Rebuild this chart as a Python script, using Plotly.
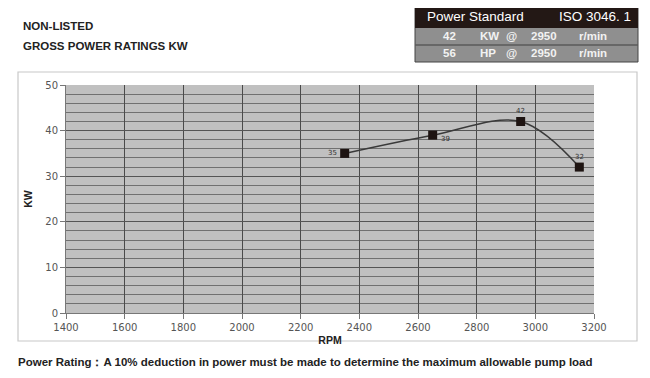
import plotly.graph_objects as go

rpm = [2350, 2650, 2950, 3150]
kw = [35, 39, 42, 32]
point_labels = ["35", "39", "42", "32"]
x_ticks = [1400, 1600, 1800, 2000, 2200, 2400, 2600, 2800, 3000, 3200]
y_ticks = [0, 10, 20, 30, 40, 50]
rated_kw, rated_hp, rated_rpm = 42, 56, 2950

# page body has an 8px margin; lay out in reference pixel coords, shifted by OFF
OFF = 8
W, H = 650 - OFF, 378 - OFF
L, T = 66 - OFF, 85 - OFF
PLOT_R, PLOT_B = 594 - OFF, 313 - OFF
R, B = W - PLOT_R, H - PLOT_B
PW, PH = W - L - R, H - T - B

def px(x):
    return (x - OFF - L) / PW

def py(y):
    return (H - B - (y - OFF)) / PH

fig = go.Figure()
fig.add_trace(go.Scatter(
    x=rpm, y=kw, mode="lines+markers",
    line=dict(color="#3a3a3a", width=1.5, shape="spline", smoothing=1.0),
    marker=dict(symbol="square", size=9, color="#1e1412"),
    hoverinfo="x+y", showlegend=False,
))

label_pos = [("right", "middle", -6, 0), ("left", "middle", 6, 4), ("center", "bottom", 0, -4), ("center", "bottom", 0, -4)]
for xv, yv, t, (xa, ya, dx, dy) in zip(rpm, kw, point_labels, label_pos):
    fig.add_annotation(x=xv, y=yv, text=t, showarrow=False,
                       xanchor=xa, yanchor=ya, xshift=dx, yshift=-dy,
                       font=dict(size=7, color="#333", family="DejaVu Sans"))

tickfont = dict(family="DejaVu Sans", size=10, color="#555")
bold = "Liberation Sans"
fig.update_xaxes(range=[1400, 3200], tickvals=x_ticks, ticks="outside", ticklen=5,
                 tickcolor="#777", showline=True, linecolor="#777", linewidth=1,
                 showgrid=True, gridcolor="#4a4a4a", gridwidth=1, zeroline=False,
                 tickfont=tickfont,
                 title=dict(text="<b>RPM</b>", standoff=4, font=dict(family=bold, size=10.5, color="#222")))
fig.update_yaxes(range=[0, 50], tickvals=y_ticks, ticks="outside", ticklen=5,
                 tickcolor="#777", showline=True, linecolor="#777", linewidth=1,
                 showgrid=True, gridcolor="#555", gridwidth=1, zeroline=False,
                 minor=dict(dtick=2, showgrid=True, gridcolor="#707070", gridwidth=1.2),
                 tickfont=tickfont,
                 title=dict(text="<b>KW</b>", standoff=10, font=dict(family=bold, size=10.5, color="#222")))

shapes = []
shapes.append(dict(type="rect", xref="paper", yref="paper", x0=px(18), x1=px(637), y0=py(341), y1=py(72),
                   line=dict(color="#c8c8c8", width=1.2), fillcolor="rgba(0,0,0,0)", layer="below"))
shapes.append(dict(type="rect", xref="paper", yref="paper", x0=px(415), x1=px(638), y0=py(62), y1=py(7),
                   line=dict(color="#444", width=1), fillcolor="#8f8f8f"))
shapes.append(dict(type="rect", xref="paper", yref="paper", x0=px(415), x1=px(638), y0=py(28), y1=py(7),
                   line=dict(width=0), fillcolor="#231815"))
shapes.append(dict(type="line", xref="paper", yref="paper", x0=px(415), x1=px(638), y0=py(45), y1=py(45),
                   line=dict(color="#5a5a5a", width=1.5)))
fig.update_layout(shapes=shapes)

def text(x, y, t, size, color="#222", xanchor="left", family=bold):
    fig.add_annotation(xref="paper", yref="paper", x=px(x), y=py(y), text=t, showarrow=False,
                       xanchor=xanchor, yanchor="middle", font=dict(family=family, size=size, color=color))

text(21, 26, "<b>NON-LISTED</b>", 11.5)
text(21, 46, "<b>GROSS POWER RATINGS KW</b>", 11.5)
text(16, 362, "<b>Power Rating：A 10% deduction in power must be made to determine the maximum allowable pump load</b>", 11.5)

text(425, 17, "Power Standard", 13.5, "white")
text(633, 17, "ISO 3046. 1", 13.5, "white", xanchor="right")
for yy, val, unit in [(36, rated_kw, "KW"), (53, rated_hp, "HP")]:
    text(449, yy, f"<b>{val}</b>", 11.5, "#f2f2f2", "center")
    text(478, yy, f"<b>{unit}</b>", 11.5, "#f2f2f2", "left")
    text(511, yy, "<b>@</b>", 11.5, "#f2f2f2", "center")
    text(544, yy, f"<b>{rated_rpm}</b>", 11.5, "#f2f2f2", "center")
    text(577, yy, "<b>r/min</b>", 11.5, "#f2f2f2", "left")

fig.update_layout(width=W, height=H, margin=dict(l=L, r=R, t=T, b=B),
                  paper_bgcolor="white", plot_bgcolor="#c0c0c0")

fig.write_html("out.html")
